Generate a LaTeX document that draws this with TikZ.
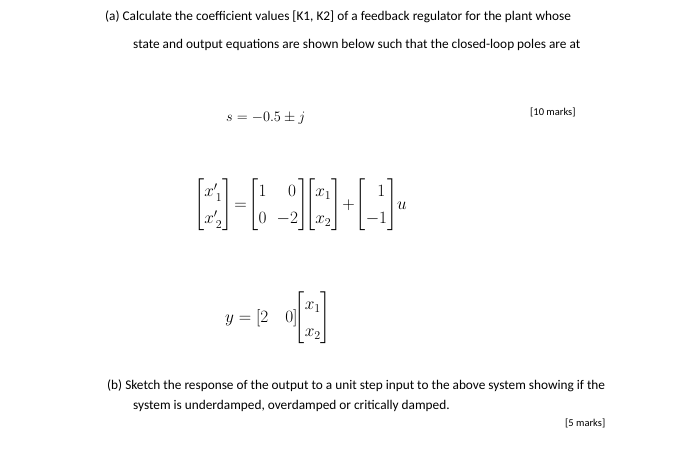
\documentclass[tikz,border=0pt]{standalone}
\usepackage{amsmath}
\usepackage{fontspec}
\setmainfont{Carlito}
\tikzset{txt/.style={anchor=west,inner sep=0pt,font=\fontsize{13.3}{15}\selectfont},
 mk/.style={anchor=west,inner sep=0pt,font=\fontsize{10.5}{12}\selectfont},
 eq/.style={anchor=west,inner sep=0pt}}
\begin{document}
\begin{tikzpicture}[x=1pt,y=-1pt]
\useasboundingbox (0,0) rectangle (700,469);
\fill[white] (0,0) rectangle (700,469);
\node[txt] (l1) at (105,17) {(a) Calculate the coefficient values [K1, K2] of a feedback regulator for the plant whose};
\node[txt] (l2) at (133,45) {state and output equations are shown below such that the closed-loop poles are at};
\node[eq] (s) at (226,118) {\fontsize{14.5}{18}\selectfont$s=-0.5\pm j$};
\node[mk] (m10) at (530,112) {[10 marks]};
\node[eq] (mat) at (194,205) {\fontsize{17}{20}\selectfont\renewcommand{\arraystretch}{1.35}$\begin{bmatrix}x'_{\,1}\\ x'_{\,2}\end{bmatrix}\!=\!\begin{bmatrix}1 & \;\;0\\ 0 & -2\end{bmatrix}\!\!\begin{bmatrix}x_1\\ x_2\end{bmatrix}\!+\!\begin{bmatrix}\;\;1\\ -1\end{bmatrix}\!u$};
\node[eq] (y) at (225,318) {\fontsize{17}{20}\selectfont\renewcommand{\arraystretch}{1.35}$y=[2\quad 0]\!\!\begin{bmatrix}x_1\\ x_2\end{bmatrix}$};
\node[txt] (b1) at (107,386) {(b) Sketch the response of the output to a unit step input to the above system showing if the};
\node[txt] (b2) at (133,406) {system is underdamped, overdamped or critically damped.};
\node[mk] (m5) at (565,423) {[5 marks]};
\end{tikzpicture}
\end{document}
